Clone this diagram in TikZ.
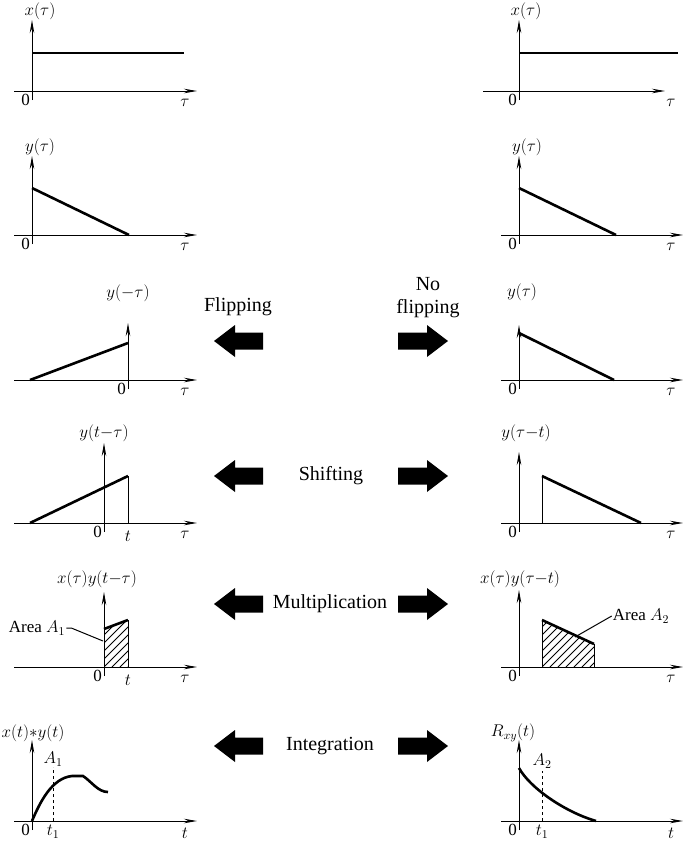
\RequirePackage{fix-cm}
\documentclass[tikz,border=0pt]{standalone}
\usepackage{fontspec}
\setmainfont{Liberation Serif}
\usetikzlibrary{arrows.meta}

\begin{document}
\begin{tikzpicture}[x=1pt, y=-1pt,
		axis/.style={line width=0.9pt, -{Stealth[length=13pt, width=4.5pt]}},
		sig/.style={line width=2.6pt},
		drop/.style={line width=1pt},
		hatch/.style={line width=0.8pt},
		lbl/.style={font=\fontsize{17}{19}\selectfont, inner sep=1pt},
		txt/.style={font=\fontsize{20}{23}\selectfont, inner sep=1pt, align=center}]
		\useasboundingbox (0,0) rectangle (685,841);
		% оси, левая колонка
		\foreach \ox/\oy/\top/\hv [count=\i] in {32/91/20/\tau, 32/235/156/\tau, 128/380/323/\tau,
			104/523/443/\tau, 104/667/592/\tau, 32/821/740/t}{
			\draw[axis] (14,\oy) -- (197,\oy);
			\draw[axis] (\ox,\oy+9) -- (\ox,\top);
			\node[lbl, anchor=north east] (zeroL\i) at (\ox-1,\oy+2) {0};
			\node[lbl] (hvarL\i) at (185,\oy+12) {$\hv$};
		}
		% оси, правая колонка
		\foreach \xa/\xb/\oy/\top/\hv [count=\i] in {483/665/91/20/\tau, 501/683/235/156/\tau,
			501/683/380/325/\tau, 501/683/523/452/\tau, 501/683/667/590/\tau, 501/683/821/740/t}{
			\draw[axis] (\xa,\oy) -- (\xb,\oy);
			\draw[axis] (519,\oy+9) -- (519,\top);
			\node[lbl, anchor=north east] (zeroR\i) at (518,\oy+2) {0};
			\node[lbl] (hvarR\i) at (671,\oy+12) {$\hv$};
		}
		% подписи осей
		\node[lbl] (labL1) at (40,11) {$x(\tau)$};
		\node[lbl] (labL2) at (40,147) {$y(\tau)$};
		\node[lbl] (labL3) at (128,293) {$y(-\tau)$};
		\node[lbl] (labL4) at (104,433) {$y(t{-}\tau)$};
		\node[lbl] (labL5) at (97,579) {$x(\tau)y(t{-}\tau)$};
		\node[lbl] (labL6) at (33,733) {$x(t){*}y(t)$};
		\node[lbl] (labR1) at (526,11) {$x(\tau)$};
		\node[lbl] (labR2) at (527,147) {$y(\tau)$};
		\node[lbl] (labR3) at (522,292) {$y(\tau)$};
		\node[lbl] (labR4) at (526,433) {$y(\tau{-}t)$};
		\node[lbl] (labR5) at (520,579) {$x(\tau)y(\tau{-}t)$};
		\node[lbl] (labR6) at (513,733) {$R_{xy}(t)$};
		% сигналы
		\draw[sig] (32,53) -- (184,53);
		\draw[sig] (519,53) -- (678,53);
		\draw[sig] (32,188) -- (129,235);
		\draw[sig] (519,188) -- (616,235);
		\draw[sig] (30,380) -- (128,343);
		\draw[sig] (519,333) -- (614,380);
		% сдвиг
		\draw[sig] (30,523) -- (128,476);
		\draw[drop] (128,476) -- (128,523);
		\node[lbl] (tL4) at (128,536) {$t$};
		\draw[drop] (542,523) -- (542,476);
		\draw[sig] (542,476) -- (641,523);
		% произведение
		\begin{scope}
			\clip (104,667) -- (104,629) -- (128,620) -- (128,667) -- cycle;
			\foreach \k in {40,48,...,128} \draw[hatch] (\k,667) -- ++(60,-60);
		\end{scope}
		\draw[drop] (128,620) -- (128,667);
		\draw[sig] (104,629) -- (128,620);
		\node[lbl] (tL5) at (128,680) {$t$};
		\begin{scope}
			\clip (542,667) -- (542,620) -- (594,644) -- (594,667) -- cycle;
			\foreach \k in {478,486,...,594} \draw[hatch] (\k,667) -- ++(60,-60);
		\end{scope}
		\draw[drop] (542,667) -- (542,620) (594,644) -- (594,667);
		\draw[sig] (542,620) -- (594,644);
		\node[lbl] (areaA) at (37,628) {Area $A_1$};
		\coordinate (areaAin) at (103,641);
		\draw[drop] (areaA.east) -- ++(5,0) -- (areaAin);
		\node[lbl] (areaB) at (641,616) {Area $A_2$};
		\coordinate (areaBin) at (575,637);
		\draw[drop] (areaB.west) -- (areaBin);
		% интеграл
		\draw[sig] (32,821) .. controls (40,802) and (52,778) .. (72,776) -- (83,776)
			.. controls (92,782) and (98,792) .. (108,792);
		\draw[drop, dashed] (53,821) -- (53,767);
		\node[lbl] (a1) at (53,759) {$A_1$};
		\node[lbl] (t1L) at (53,832) {$t_1$};
		\draw[sig] (519,768) .. controls (530,788) and (565,812) .. (596,821);
		\draw[drop, dashed] (542,821) -- (542,771);
		\node[lbl] (a2) at (542,761) {$A_2$};
		\node[lbl] (t1R) at (542,832) {$t_1$};
		% стрелки
		\foreach \r in {341,476,604,746}{
			\fill (214,\r) -- (235,\r-16) -- (235,\r-8.5) -- (263,\r-8.5) -- (263,\r+8.5)
				-- (235,\r+8.5) -- (235,\r+16) -- cycle;
			\fill (448,\r) -- (427,\r-16) -- (427,\r-8.5) -- (398,\r-8.5) -- (398,\r+8.5)
				-- (427,\r+8.5) -- (427,\r+16) -- cycle;
		}
		\node[txt] (flip) at (238,307) {Flipping};
		\node[txt] (noflip) at (428,298) {No\\flipping};
		\node[txt] (shift) at (331,476) {Shifting};
		\node[txt] (mult) at (330,604) {Multiplication};
		\node[txt] (integ) at (330,746) {Integration};
	\end{tikzpicture}
\end{document}
